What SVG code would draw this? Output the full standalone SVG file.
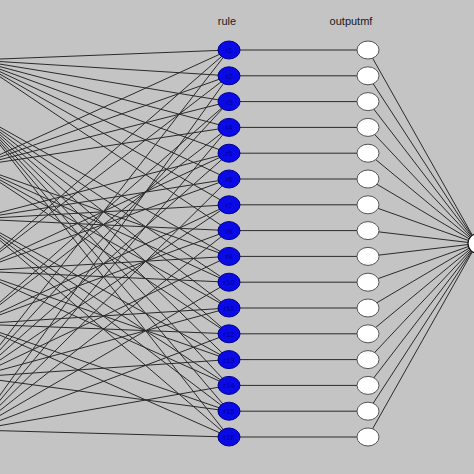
<svg xmlns="http://www.w3.org/2000/svg" width="474" height="474" viewBox="0 0 474 474">
<style>
.bg{fill:#c4c4c4}
.ln{stroke:#2a2a2a;stroke-width:1;fill:none}
.rule ellipse{fill:#0a0ae6;stroke:#00008a;stroke-width:1}
.rule text{font-family:"Liberation Sans",Arial,sans-serif;font-size:8px;fill:#00009a;text-anchor:middle}
.omf ellipse{fill:#ffffff;stroke:#555555;stroke-width:1}
.out circle{fill:#ffffff;stroke:#111111;stroke-width:1.2}
.lbl{font-family:"Liberation Sans",Arial,sans-serif;font-size:11px;fill:#1a1a1a;text-anchor:middle}
</style>
<rect class="bg" x="0" y="0" width="474" height="474"/>
<text class="lbl" x="227" y="25">rule</text>
<text class="lbl" x="351" y="25">outputmf</text>
<g id="connectors">
<path class="ln" d="M-25 60L229 50M-25 60L229 75.8M-25 60L229 101.6M-25 60L229 127.4M-25 60L229 153.2M-25 60L229 179M-25 60L229 204.8M-25 60L229 230.6"/>
<path class="ln" d="M-25 113L229 256.4M-25 113L229 282.2M-25 113L229 308M-25 113L229 333.8M-25 113L229 359.6M-25 113L229 385.4M-25 113L229 411.2M-25 113L229 437"/>
<path class="ln" d="M-25 166L229 50M-25 166L229 75.8M-25 166L229 101.6M-25 166L229 127.4M-25 166L229 256.4M-25 166L229 282.2M-25 166L229 308M-25 166L229 333.8"/>
<path class="ln" d="M-25 219L229 153.2M-25 219L229 179M-25 219L229 204.8M-25 219L229 230.6M-25 219L229 359.6M-25 219L229 385.4M-25 219L229 411.2M-25 219L229 437"/>
<path class="ln" d="M-25 271L229 50M-25 271L229 75.8M-25 271L229 153.2M-25 271L229 179M-25 271L229 256.4M-25 271L229 282.2M-25 271L229 359.6M-25 271L229 385.4"/>
<path class="ln" d="M-25 324L229 101.6M-25 324L229 127.4M-25 324L229 204.8M-25 324L229 230.6M-25 324L229 308M-25 324L229 333.8M-25 324L229 411.2M-25 324L229 437"/>
<path class="ln" d="M-25 377L229 50M-25 377L229 101.6M-25 377L229 153.2M-25 377L229 204.8M-25 377L229 256.4M-25 377L229 308M-25 377L229 359.6M-25 377L229 411.2"/>
<path class="ln" d="M-25 430L229 75.8M-25 430L229 127.4M-25 430L229 179M-25 430L229 230.6M-25 430L229 282.2M-25 430L229 333.8M-25 430L229 385.4M-25 430L229 437"/>
<path class="ln" d="M229 50H368M229 75.8H368M229 101.6H368M229 127.4H368M229 153.2H368M229 179H368M229 204.8H368M229 230.6H368M229 256.4H368M229 282.2H368M229 308H368M229 333.8H368M229 359.6H368M229 385.4H368M229 411.2H368M229 437H368"/>
<path class="ln" d="M368 50L477 243.5M368 75.8L477 243.5M368 101.6L477 243.5M368 127.4L477 243.5M368 153.2L477 243.5M368 179L477 243.5M368 204.8L477 243.5M368 230.6L477 243.5M368 256.4L477 243.5M368 282.2L477 243.5M368 308L477 243.5M368 333.8L477 243.5M368 359.6L477 243.5M368 385.4L477 243.5M368 411.2L477 243.5M368 437L477 243.5"/>
</g>
<g id="rule1" class="rule"><ellipse cx="229" cy="50" rx="11" ry="9"/><text x="229" y="53">r1</text></g>
<g id="rule2" class="rule"><ellipse cx="229" cy="75.8" rx="11" ry="9"/><text x="229" y="78.8">r2</text></g>
<g id="rule3" class="rule"><ellipse cx="229" cy="101.6" rx="11" ry="9"/><text x="229" y="104.6">r3</text></g>
<g id="rule4" class="rule"><ellipse cx="229" cy="127.4" rx="11" ry="9"/><text x="229" y="130.4">r4</text></g>
<g id="rule5" class="rule"><ellipse cx="229" cy="153.2" rx="11" ry="9"/><text x="229" y="156.2">r5</text></g>
<g id="rule6" class="rule"><ellipse cx="229" cy="179" rx="11" ry="9"/><text x="229" y="182">r6</text></g>
<g id="rule7" class="rule"><ellipse cx="229" cy="204.8" rx="11" ry="9"/><text x="229" y="207.8">r7</text></g>
<g id="rule8" class="rule"><ellipse cx="229" cy="230.6" rx="11" ry="9"/><text x="229" y="233.6">r8</text></g>
<g id="rule9" class="rule"><ellipse cx="229" cy="256.4" rx="11" ry="9"/><text x="229" y="259.4">r9</text></g>
<g id="rule10" class="rule"><ellipse cx="229" cy="282.2" rx="11" ry="9"/><text x="229" y="285.2">r10</text></g>
<g id="rule11" class="rule"><ellipse cx="229" cy="308" rx="11" ry="9"/><text x="229" y="311">r11</text></g>
<g id="rule12" class="rule"><ellipse cx="229" cy="333.8" rx="11" ry="9"/><text x="229" y="336.8">r12</text></g>
<g id="rule13" class="rule"><ellipse cx="229" cy="359.6" rx="11" ry="9"/><text x="229" y="362.6">r13</text></g>
<g id="rule14" class="rule"><ellipse cx="229" cy="385.4" rx="11" ry="9"/><text x="229" y="388.4">r14</text></g>
<g id="rule15" class="rule"><ellipse cx="229" cy="411.2" rx="11" ry="9"/><text x="229" y="414.2">r15</text></g>
<g id="rule16" class="rule"><ellipse cx="229" cy="437" rx="11" ry="9"/><text x="229" y="440">r16</text></g>
<g id="outputmf1" class="omf"><ellipse cx="368" cy="50" rx="11" ry="9"/></g>
<g id="outputmf2" class="omf"><ellipse cx="368" cy="75.8" rx="11" ry="9"/></g>
<g id="outputmf3" class="omf"><ellipse cx="368" cy="101.6" rx="11" ry="9"/></g>
<g id="outputmf4" class="omf"><ellipse cx="368" cy="127.4" rx="11" ry="9"/></g>
<g id="outputmf5" class="omf"><ellipse cx="368" cy="153.2" rx="11" ry="9"/></g>
<g id="outputmf6" class="omf"><ellipse cx="368" cy="179" rx="11" ry="9"/></g>
<g id="outputmf7" class="omf"><ellipse cx="368" cy="204.8" rx="11" ry="9"/></g>
<g id="outputmf8" class="omf"><ellipse cx="368" cy="230.6" rx="11" ry="9"/></g>
<g id="outputmf9" class="omf"><ellipse cx="368" cy="256.4" rx="11" ry="9"/></g>
<g id="outputmf10" class="omf"><ellipse cx="368" cy="282.2" rx="11" ry="9"/></g>
<g id="outputmf11" class="omf"><ellipse cx="368" cy="308" rx="11" ry="9"/></g>
<g id="outputmf12" class="omf"><ellipse cx="368" cy="333.8" rx="11" ry="9"/></g>
<g id="outputmf13" class="omf"><ellipse cx="368" cy="359.6" rx="11" ry="9"/></g>
<g id="outputmf14" class="omf"><ellipse cx="368" cy="385.4" rx="11" ry="9"/></g>
<g id="outputmf15" class="omf"><ellipse cx="368" cy="411.2" rx="11" ry="9"/></g>
<g id="outputmf16" class="omf"><ellipse cx="368" cy="437" rx="11" ry="9"/></g>
<g id="output" class="out"><circle cx="478" cy="243.5" r="10"/></g>
</svg>
